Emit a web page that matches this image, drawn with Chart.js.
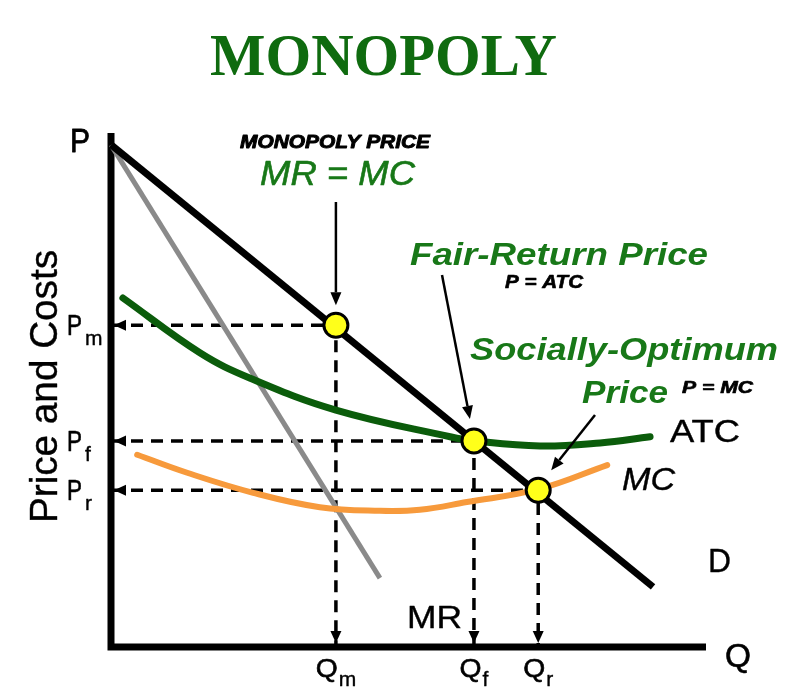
<!DOCTYPE html>
<html>
<head>
<meta charset="utf-8">
<title>Monopoly</title>
<script src="https://cdn.jsdelivr.net/npm/chart.js@4.4.1/dist/chart.umd.min.js"></script>
<style>
  html, body { margin: 0; padding: 0; background: #fff; }
  #wrap { width: 804px; height: 693px; }
</style>
</head>
<body>
<div id="wrap"><canvas id="myChart"></canvas></div>
<script>
// curves (Q on x, price on y, both 0..100)
const demandQ = [0, 91.1];
const demandP = [97.7, 11.7];
const mrQ = [0, 45.2];
const mrP = [97.7, 13.4];
const atcQ = [2.0, 15.0, 23.4, 37.8, 57.0, 61.0, 72.1, 82.2, 90.6];
const atcP = [67.9, 57.2, 52.3, 46.1, 40.9, 40.1, 39.1, 39.7, 40.9];
const mcQ = [4.4, 12.8, 23.9, 35.1, 45.2, 51.9, 59.8, 71.8, 83.4];
const mcP = [37.4, 33.9, 30.0, 27.2, 26.5, 26.7, 28.2, 30.7, 35.4];

// the three prices: monopoly, fair-return, socially optimum
const eqNames = ["m", "f", "r"];
const eqQ = [37.8, 61.0, 71.8];
const eqP = [62.6, 40.1, 30.5];
const axisMax = 100;

const sans = '"Liberation Sans", Arial, sans-serif';
const textGreen = "#187818";
const curveGreen = "#0b5c0b";

function pts(xs, ys) {
  return xs.map((x, i) => ({ x: x, y: ys[i] }));
}

// draw text squeezed/stretched to a given width (natural width if w is null)
function fitText(ctx, text, x, y, w, font, color, heavy) {
  ctx.save();
  ctx.font = font;
  ctx.fillStyle = color;
  ctx.strokeStyle = color;
  ctx.textAlign = "left";
  ctx.textBaseline = "alphabetic";
  const m = ctx.measureText(text).width;
  ctx.translate(x, y);
  if (w) ctx.scale(w / m, 1);
  ctx.fillText(text, 0, 0);
  if (heavy) {
    ctx.lineWidth = heavy;
    ctx.lineJoin = "round";
    ctx.strokeText(text, 0, 0);
  }
  ctx.restore();
}

function arrow(ctx, x1, y1, x2, y2) {
  const a = Math.atan2(y2 - y1, x2 - x1);
  const len = 13, half = 5.5;
  ctx.save();
  ctx.strokeStyle = "#000";
  ctx.fillStyle = "#000";
  ctx.lineWidth = 2.5;
  ctx.beginPath();
  ctx.moveTo(x1, y1);
  ctx.lineTo(x2 - len * Math.cos(a), y2 - len * Math.sin(a));
  ctx.stroke();
  head(ctx, x2, y2, a, len, half);
  ctx.restore();
}

function head(ctx, x, y, a, len, half) {
  ctx.beginPath();
  ctx.moveTo(x, y);
  ctx.lineTo(x - len * Math.cos(a) - half * Math.sin(a), y - len * Math.sin(a) + half * Math.cos(a));
  ctx.lineTo(x - len * Math.cos(a) + half * Math.sin(a), y - len * Math.sin(a) - half * Math.cos(a));
  ctx.closePath();
  ctx.fill();
}

const labelPlugin = {
  id: "labels",
  afterDraw(chart) {
    const ctx = chart.ctx;
    const xs = chart.scales.x;
    const ys = chart.scales.y;
    const x0 = xs.getPixelForValue(0);
    const y0 = ys.getPixelForValue(0);

    fitText(ctx, "MONOPOLY", 210, 75, 347, 'bold 60px "Liberation Serif", "Times New Roman", serif', "#0f6b0f");

    // axis names
    fitText(ctx, "P", 70, 152, 20, "34px " + sans, "#000", 0.8);
    fitText(ctx, "Q", 725, 667, 26, "33px " + sans, "#000", 0.6);
    ctx.save();
    ctx.translate(57, 523);
    ctx.rotate(-Math.PI / 2);
    fitText(ctx, "Price and Costs", 0, 0, 273, "38px " + sans, "#000", 0.4);
    ctx.restore();

    // curve names
    fitText(ctx, "ATC", 670, 442, 70, "31px " + sans, "#000", 0.4);
    fitText(ctx, "MC", 622, 490, 53, "italic 31px " + sans, "#000", 0.4);
    fitText(ctx, "D", 708, 572, 23, "33px " + sans, "#000", 0.4);
    fitText(ctx, "MR", 407, 628, 55, "32px " + sans, "#000", 0.4);

    // captions
    fitText(ctx, "MONOPOLY PRICE", 240, 148, 190, "bold italic 18px " + sans, "#000", 0.9);
    fitText(ctx, "MR = MC", 260, 185, 155, "italic 35px " + sans, textGreen, 0.6);
    fitText(ctx, "Fair-Return Price", 410, 265, 298, "bold italic 31px " + sans, textGreen);
    fitText(ctx, "P = ATC", 505, 288, 78, "bold italic 18px " + sans, "#000", 0.6);
    fitText(ctx, "Socially-Optimum", 470, 360, 308, "bold italic 31px " + sans, textGreen);
    fitText(ctx, "Price", 582, 403, 86, "bold italic 31px " + sans, textGreen);
    fitText(ctx, "P = MC", 682, 393, 71, "bold italic 16px " + sans, "#000", 0.6);

    // pointers to the three prices
    const px = eqQ.map(q => xs.getPixelForValue(q));
    const py = eqP.map(p => ys.getPixelForValue(p));
    arrow(ctx, px[0], 202, px[0], py[0] - 20);
    arrow(ctx, 442, 275, px[1] - 4, py[1] - 22);
    arrow(ctx, 595, 415, px[2] + 13, py[2] - 20);

    // arrowheads on the dashed guides and the P / Q labels
    ctx.fillStyle = "#000";
    for (let i = 0; i < eqQ.length; i++) {
      head(ctx, x0 + 3, py[i], Math.PI, 12, 5.5);
      head(ctx, px[i], y0 - 4, Math.PI / 2, 12, 5.5);

      fitText(ctx, "P", 67, py[i] + 10, 15, "29px " + sans, "#000", 0.6);
      fitText(ctx, eqNames[i], 85, py[i] + 20, null, "21px " + sans, "#000", 0.4);

      ctx.font = "21px " + sans;
      const subW = ctx.measureText(eqNames[i]).width;
      const left = px[i] - (22 + 1 + subW) / 2;
      fitText(ctx, "Q", left, 677, 22, "26px " + sans, "#000", 0.6);
      fitText(ctx, eqNames[i], left + 23, 686, null, "21px " + sans, "#000", 0.4);
    }
  }
};

const guideSets = eqQ.map((q, i) => ({
  label: "guide " + eqNames[i],
  data: [{ x: 0, y: eqP[i] }, { x: q, y: eqP[i] }, { x: q, y: 0 }],
  showLine: true,
  borderColor: "#000",
  borderWidth: 3.5,
  borderDash: [12, 8],
  pointRadius: 0,
  fill: false,
  clip: false,
  order: 5
}));

new Chart("myChart", {
  type: "scatter",
  data: {
    datasets: [
      {
        label: "Equilibria",
        data: pts(eqQ, eqP),
        pointRadius: 12,
        pointBackgroundColor: "#ffff1a",
        pointBorderColor: "#000",
        pointBorderWidth: 3,
        showLine: false,
        order: 0
      },
      {
        label: "D",
        data: pts(demandQ, demandP),
        showLine: true,
        borderColor: "#000",
        borderWidth: 7,
        pointRadius: 0,
        clip: false,
        order: 1
      },
      {
        label: "ATC",
        data: pts(atcQ, atcP),
        showLine: true,
        borderColor: curveGreen,
        borderWidth: 7,
        borderCapStyle: "round",
        tension: 0.4,
        pointRadius: 0,
        order: 2
      },
      {
        label: "MC",
        data: pts(mcQ, mcP),
        showLine: true,
        borderColor: "#f79a3c",
        borderWidth: 6,
        borderCapStyle: "round",
        tension: 0.4,
        pointRadius: 0,
        order: 3
      },
      {
        label: "MR",
        data: pts(mrQ, mrP),
        showLine: true,
        borderColor: "#8a8a8a",
        borderWidth: 5,
        pointRadius: 0,
        clip: false,
        order: 4
      },
      ...guideSets,
      {
        label: "axes",
        data: [{ x: 0, y: axisMax }, { x: 0, y: 0 }, { x: axisMax, y: 0 }],
        showLine: true,
        borderColor: "#000",
        borderWidth: 7,
        borderJoinStyle: "miter",
        pointRadius: 0,
        clip: false,
        order: 6
      }
    ]
  },
  options: {
    responsive: true,
    maintainAspectRatio: false,
    animation: false,
    layout: { padding: { left: 111, right: 98, top: 133, bottom: 46 } },
    scales: {
      x: { type: "linear", min: 0, max: axisMax, display: false },
      y: { type: "linear", min: 0, max: axisMax, display: false }
    },
    plugins: {
      legend: { display: false },
      tooltip: { enabled: false }
    }
  },
  plugins: [labelPlugin]
});
</script>
</body>
</html>
